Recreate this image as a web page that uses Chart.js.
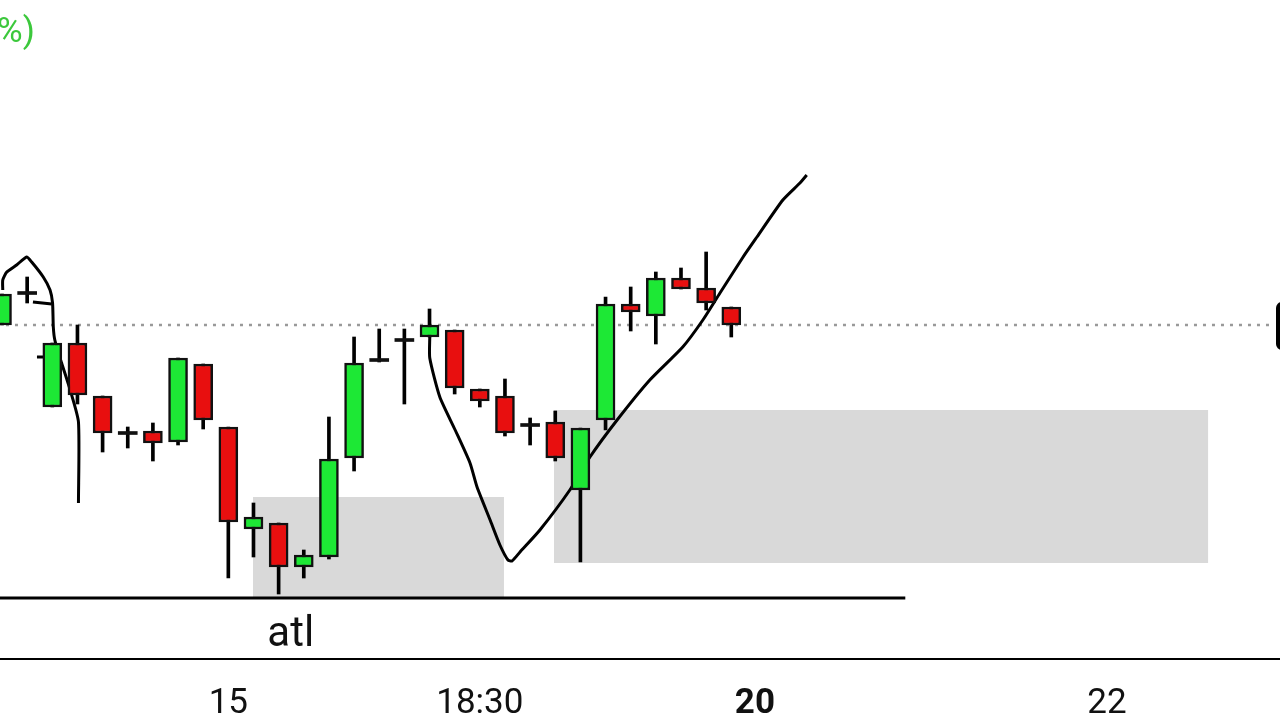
<!DOCTYPE html>
<html>
<head>
<meta charset="utf-8">
<script src="https://cdn.jsdelivr.net/npm/chart.js@4.4.1/dist/chart.umd.min.js"></script>
<style>
  html, body { margin: 0; padding: 0; background: #fff; }
  #wrap { width: 1280px; height: 720px; }
</style>
</head>
<body>
<div id="wrap"><canvas id="chart"></canvas></div>
<script>
// Candles, left to right (price units)
const opens  = [133.5, 136.7, 125.3, 131.7, 126.4, 122.7, 122.9, 121.8, 129.6, 123.3, 113.1, 113.7, 109.3, 110.3, 120.2, 130.0, 132.0, 132.3, 133.0, 127.1, 126.4, 123.5, 123.8, 117.0, 124.0, 135.6, 134.4, 138.2, 137.2, 135.3];
const closes = [136.6, 136.7, 131.7, 126.5, 122.7, 122.7, 121.7, 130.2, 124.0, 113.8, 114.3, 109.3, 110.5, 120.1, 129.7, 130.0, 132.0, 133.5, 127.2, 125.9, 122.7, 123.5, 120.2, 123.2, 135.6, 134.8, 138.2, 137.1, 135.7, 133.5];
const highs  = [136.6, 138.3, 131.7, 133.5, 126.4, 123.3, 123.7, 130.2, 129.6, 123.3, 115.7, 113.7, 111.0, 124.3, 132.3, 133.1, 133.1, 135.1, 133.0, 127.1, 128.1, 124.2, 124.9, 123.2, 136.3, 137.3, 138.8, 139.2, 140.8, 135.3];
const lows   = [133.5, 135.7, 125.3, 125.6, 120.8, 121.2, 119.9, 121.5, 123.1, 108.2, 110.3, 106.6, 108.2, 110.1, 118.9, 129.8, 125.6, 132.3, 126.6, 125.3, 122.4, 121.5, 119.9, 109.8, 123.0, 132.9, 131.6, 137.1, 135.0, 132.3];

// time axis labels (position in candles)
const tickPos = [9, 19, 29.94, 43.94];
const tickLabels = ['15', '18:30', '20', '22'];
const boldLabel = '20';

const lastPrice = 133.5;   // dotted line
const atlPrice = 106.2;    // all time low line
const atlEnd = 35.92;

// hand drawn strokes, [candle, price]
const stroke1 = [[0.03, 137.0], [0.03, 138.0], [0.19, 138.8], [0.58, 139.5], [0.98, 140.3], [1.18, 139.8], [1.64, 138.3], [1.91, 137.0], [2.01, 135.7], [2.04, 133.3], [2.10, 132.0], [2.37, 129.7], [2.71, 127.0], [3.04, 123.8], [3.04, 115.7]];
const stroke2 = [[17.01, 132.3], [17.01, 130.2], [17.41, 126.3], [18.02, 123.0], [18.61, 119.7], [18.89, 117.3], [19.41, 114.0], [19.80, 111.5], [20.12, 110.0], [20.28, 109.9], [20.60, 110.8], [21.39, 113.0], [22.58, 117.0], [23.38, 120.3], [24.46, 124.0], [25.76, 128.0], [27.07, 131.3], [27.87, 134.0], [28.55, 136.7], [29.47, 140.3], [30.02, 142.3], [31.05, 146.0], [31.73, 147.7], [32.00, 148.5]];
const stroke3 = [[1.23, 135.8], [1.98, 135.6]];
const stroke4 = [[1.39, 130.3], [1.71, 130.3]];

// grey zones: [from candle, to candle, low, high]
const zones = [[9.98, 19.96, 106.2, 116.3], [21.95, 47.96, 109.7, 125.0]];

const GREEN = '#1de835';
const RED = '#e80f0f';

const idx = opens.map((_, i) => i);
const isDoji = i => opens[i] === closes[i];

const bodies = idx.map(i => ({ x: i, y: isDoji(i) ? [opens[i] - 0.15, opens[i] + 0.15] : [opens[i], closes[i]] }));
const bodyColors = idx.map(i => isDoji(i) ? '#111' : (closes[i] > opens[i] ? GREEN : RED));
const wicks = idx.map(i => ({ x: i, y: [lows[i], highs[i]] }));

const toPts = arr => arr.map(([x, y]) => ({ x: x, y: y }));

function strokeSet(arr) {
    return {
        type: 'line',
        data: toPts(arr),
        borderColor: '#000',
        borderWidth: 3,
        pointRadius: 0,
        tension: 0.2
    };
}

const zonePlugin = {
    id: 'zones',
    beforeDatasetsDraw(chart) {
        const { ctx, scales: { x, y } } = chart;
        ctx.save();
        ctx.fillStyle = '#d9d9d9';
        zones.forEach(z => {
            const x0 = x.getPixelForValue(z[0]);
            const x1 = x.getPixelForValue(z[1]);
            const y0 = y.getPixelForValue(z[3]);
            const y1 = y.getPixelForValue(z[2]);
            ctx.fillRect(x0, y0, x1 - x0, y1 - y0);
        });
        ctx.restore();
    },
    afterDraw(chart) {
        const { ctx, scales: { x, y } } = chart;
        ctx.save();
        // atl label
        ctx.fillStyle = '#111';
        ctx.font = '42px Roboto';
        ctx.textBaseline = 'alphabetic';
        ctx.fillText('atl', x.getPixelForValue(10.55), y.getPixelForValue(101.4));
        // change percent, cut off at the left
        ctx.font = '35px Roboto';
        ctx.fillStyle = '#3cc83c';
        ctx.fillText('%)', -3, 42);
        // price tag at the right edge
        ctx.fillStyle = '#000';
        const t = y.getPixelForValue(lastPrice + 2.3);
        const b = y.getPixelForValue(lastPrice - 2.5);
        ctx.beginPath();
        ctx.roundRect(1276, t, 30, b - t, 6);
        ctx.fill();
        ctx.restore();
    }
};

new Chart(document.getElementById('chart'), {
    type: 'bar',
    data: {
        datasets: [
            {
                label: 'body',
                data: bodies,
                backgroundColor: bodyColors,
                borderColor: '#111',
                borderWidth: idx.map(i => isDoji(i) ? 0 : 2.5),
                borderSkipped: false,
                barThickness: 19,
                grouped: false
            },
            {
                label: 'wick',
                data: wicks,
                backgroundColor: '#000',
                borderWidth: 0,
                barThickness: 3,
                grouped: false
            },
            strokeSet(stroke1),
            strokeSet(stroke2),
            strokeSet(stroke3),
            strokeSet(stroke4),
            {
                type: 'line',
                data: [{ x: -0.2, y: atlPrice }, { x: atlEnd, y: atlPrice }],
                borderColor: '#000',
                borderWidth: 3,
                pointRadius: 0
            },
            {
                type: 'line',
                data: [{ x: -0.2, y: lastPrice }, { x: 50.62, y: lastPrice }],
                borderColor: '#999',
                borderWidth: 2.5,
                borderDash: [3, 6],
                pointRadius: 0
            }
        ]
    },
    options: {
        responsive: true,
        maintainAspectRatio: false,
        animation: false,
        layout: { padding: 0 },
        plugins: {
            legend: { display: false },
            tooltip: { enabled: false }
        },
        scales: {
            x: {
                type: 'linear',
                min: -0.08,
                max: 50.82,
                offset: false,
                grid: { display: false, drawTicks: false },
                border: { display: true, color: '#000', width: 2 },
                afterBuildTicks: s => { s.ticks = tickPos.map(v => ({ value: v })); },
                afterFit: s => { s.height = 61; },
                ticks: {
                    autoSkip: false,
                    maxRotation: 0,
                    padding: 24,
                    color: '#111',
                    font: c => ({
                        family: 'Roboto',
                        size: 35,
                        weight: (c.tick && tickLabels[tickPos.indexOf(c.tick.value)] === boldLabel) ? 'bold' : 'normal'
                    }),
                    callback: v => {
                        const k = tickPos.indexOf(v);
                        return k < 0 ? '' : tickLabels[k];
                    }
                }
            },
            y: {
                display: false,
                min: 100.1,
                max: 166.0
            }
        }
    },
    plugins: [zonePlugin]
});
</script>
</body>
</html>
